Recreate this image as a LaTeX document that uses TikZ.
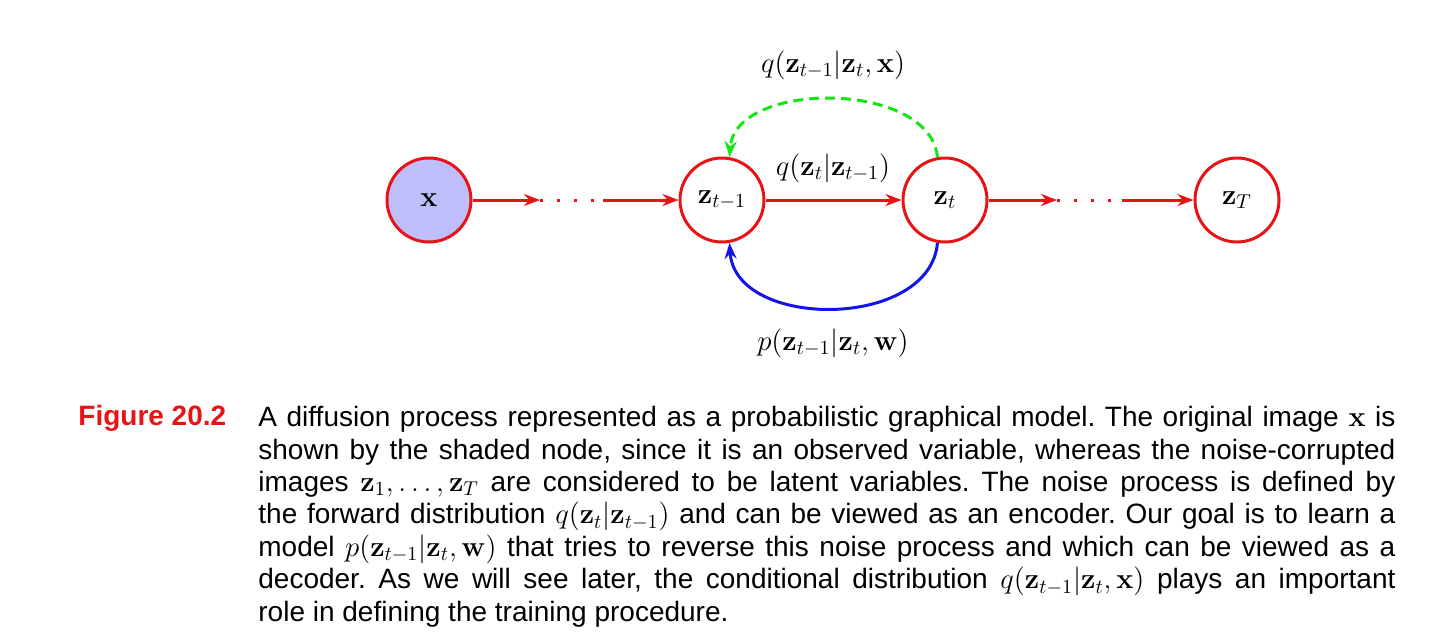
\documentclass[tikz,border=0pt]{standalone}
\usepackage[no-math]{fontspec}
\setmainfont{Liberation Sans}
\usepackage{amsmath}
\usetikzlibrary{arrows.meta}
\definecolor{myred}{RGB}{230,20,20}
\definecolor{mygreen}{RGB}{20,230,20}
\definecolor{myblue}{RGB}{20,20,230}
\definecolor{shade}{RGB}{190,190,250}
\tikzset{
  var/.style={circle,draw=myred,line width=1.5pt,minimum size=42pt,inner sep=0pt,fill=white,font=\Large},
  fwd/.style={myred,line width=1.5pt,-{Stealth[length=8pt,width=6pt]}},
  dotline/.style={myred,line width=1.5pt,dash pattern=on 1.5pt off 7pt},
}
\begin{document}
\begin{tikzpicture}[x=0.5pt,y=-0.5pt]
\useasboundingbox (0,0) rectangle (1440,643);
\node[var,fill=shade] (x) at (429,200) {$\mathbf{x}$};
\node[var] (zt1) at (722,200) {$\mathbf{z}_{t-1}$};
\node[var] (zt) at (945,200) {$\mathbf{z}_{t}$};
\node[var] (zT) at (1237,200) {$\mathbf{z}_{T}$};
\coordinate (a1) at (540,200); \coordinate (a2) at (603,200);
\coordinate (b1) at (1057,200); \coordinate (b2) at (1122,200);
\draw[fwd] (x) -- (a1);
\draw[dotline] (a1) -- (a2);
\draw[fwd] (a2) -- (zt1);
\draw[fwd] (zt1) -- (zt);
\draw[fwd] (zt) -- (b1);
\draw[dotline] (b1) -- (b2);
\draw[fwd] (b2) -- (zT);
\draw[mygreen,line width=1.5pt,dash pattern=on 5pt off 3pt,-{Stealth[length=8pt,width=6pt]}]
  (zt.100) .. controls (930,80) and (735,80) .. (zt1.80);
\draw[myblue,line width=1.5pt,-{Stealth[length=8pt,width=6pt]}]
  (zt.-100) .. controls (930,330) and (735,330) .. (zt1.-80);
\node[font=\Large] (lq) at (833,65) {$q(\mathbf{z}_{t-1}|\mathbf{z}_t,\mathbf{x})$};
\node[font=\Large] (lf) at (833,168) {$q(\mathbf{z}_{t}|\mathbf{z}_{t-1})$};
\node[font=\Large] (lp) at (833,343) {$p(\mathbf{z}_{t-1}|\mathbf{z}_t,\mathbf{w})$};
\node[anchor=base west,inner sep=0pt,text=myred,font=\fontsize{14}{16}\selectfont\bfseries] (fig) at (78,425) {Figure 20.2};
\node[anchor=north west,inner sep=0pt,text width=568.5pt,align=justify,font=\fontsize{14}{16.2}\selectfont\frenchspacing] (cap) at (258,406)
{A diffusion process represented as a probabilistic graphical model. The original image $\mathbf{x}$ is\linebreak
shown by the shaded node, since it is an observed variable, whereas the noise-corrupted\linebreak
images $\mathbf{z}_1,\ldots,\mathbf{z}_T$ are considered to be latent variables. The noise process is defined by\linebreak
the forward distribution $q(\mathbf{z}_t|\mathbf{z}_{t-1})$ and can be viewed as an encoder. Our goal is to learn a\linebreak
model $p(\mathbf{z}_{t-1}|\mathbf{z}_t,\mathbf{w})$ that tries to reverse this noise process and which can be viewed as a\linebreak
decoder. As we will see later, the conditional distribution $q(\mathbf{z}_{t-1}|\mathbf{z}_t,\mathbf{x})$ plays an important\linebreak
role in defining the training procedure.};
\end{tikzpicture}
\end{document}
